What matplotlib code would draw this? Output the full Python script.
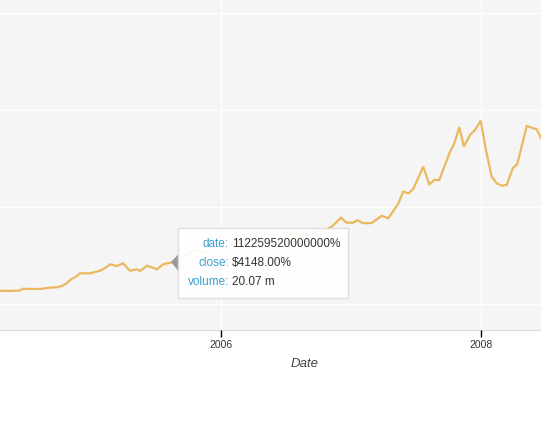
import matplotlib
matplotlib.use("Agg")
import matplotlib.pyplot as plt
from matplotlib.patches import Rectangle, Polygon

# monthly-ish closing prices, x in decimal years
years = [2004.25, 2004.300, 2004.377, 2004.454, 2004.477, 2004.531, 2004.608, 2004.685,
         2004.738, 2004.777, 2004.815, 2004.838, 2004.892, 2004.915, 2004.992, 2005.031,
         2005.069, 2005.108, 2005.146, 2005.200, 2005.246, 2005.300, 2005.354, 2005.377,
         2005.431, 2005.508, 2005.554, 2005.623, 2005.723, 2005.800, 2005.877, 2005.954,
         2006.031, 2006.108, 2006.185, 2006.262, 2006.338, 2006.415, 2006.492, 2006.569,
         2006.646, 2006.723, 2006.800, 2006.852, 2006.923, 2006.967, 2007.015, 2007.048,
         2007.095, 2007.159, 2007.236, 2007.287, 2007.362, 2007.402, 2007.441, 2007.479,
         2007.556, 2007.602, 2007.641, 2007.679, 2007.762, 2007.792, 2007.833, 2007.869,
         2007.915, 2007.954, 2007.998, 2008.038, 2008.082, 2008.121, 2008.159, 2008.198,
         2008.244, 2008.279, 2008.352, 2008.428, 2008.462, 2008.50]
close = [13.5, 13.7, 13.4, 13.9, 15.8, 15.5, 15.5, 16.9,
         17.2, 18.6, 21.6, 24.7, 28.9, 31.6, 31.6, 33.0,
         34.3, 37.1, 40.9, 39.2, 42.0, 34.3, 35.8, 34.0,
         39.5, 35.8, 40.9, 43.0, 50.5, 55.7, 53.6, 60.8,
         58.8, 62.9, 66.0, 62.9, 68.0, 70.1, 68.0, 73.2,
         71.1, 74.2, 76.3, 79.7, 89.0, 83.8, 83.8, 86.3,
         83.2, 83.5, 91.0, 88.4, 103.1, 115.8, 114.1, 118.6,
         141.5, 123.4, 127.8, 127.8, 157.0, 164.6, 182.2, 162.2,
         174.2, 179.4, 189.0, 158.8, 131.2, 124.4, 122.0, 122.7,
         139.9, 144.3, 183.5, 180.1, 171.1, 165.0]

tick_years = [2006, 2008]
tip_labels = ["date:", "close:", "volume:"]
tip_values = ["112259520000000%", "$4148.00%", "20.07 m"]

plt.rcParams["font.family"] = ["Liberation Sans", "DejaVu Sans"]

W, H = 541, 421
fig = plt.figure(figsize=(W / 100, H / 100), dpi=100)
ax = fig.add_axes([0, 91 / H, 1, 1 - 91 / H])
ax.set_facecolor("#f5f5f5")

ax.plot(years, close, color="#ebb85e", lw=1.6, solid_joinstyle="miter", zorder=3)

ax.set_xlim(2006 - 221 / 130, 2008 + 60 / 130)
ax.set_ylim(-26.8, 313.4)
ax.set_yticks([0, 100, 200, 300])
ax.set_yticklabels([])
ax.tick_params(axis="y", length=0)
ax.set_xticks(tick_years)
ax.set_xticklabels([str(t) for t in tick_years], fontsize=7.5, color="#333")
ax.tick_params(axis="x", length=5, width=1, color="black", pad=2.5, direction="out")
ax.grid(True, color="white", lw=1, zorder=1)
for s in ["top", "left", "right"]:
    ax.spines[s].set_visible(False)
ax.spines["bottom"].set_color("#dddddd")
ax.spines["bottom"].set_zorder(0)

fig.text(305 / W, 1 - 364 / H, "Date", ha="center", va="center",
         fontsize=9.5, style="italic", color="#444")

# tooltip
def fx(px):
    return px / W

def fy(py):
    return 1 - py / H

fig.patches.append(Polygon([(fx(172), fy(262)), (fx(178.5), fy(255)), (fx(178.5), fy(270))],
                           closed=True, transform=fig.transFigure, color="#999999", zorder=5))
fig.patches.append(Rectangle((fx(178), fy(298)), 170 / W, 70 / H, transform=fig.transFigure,
                             facecolor="white", alpha=0.93, edgecolor="#dddddd", lw=1, zorder=6))
for i, (lab, val) in enumerate(zip(tip_labels, tip_values)):
    yy = fy(244 + i * 19)
    fig.text(fx(229), yy, lab, ha="right", va="center", fontsize=8.5, color="#3a9fd0", zorder=7)
    fig.text(fx(232), yy, val, ha="left", va="center", fontsize=8.5, color="#333333", zorder=7)

fig.savefig("out.png", dpi=100)
